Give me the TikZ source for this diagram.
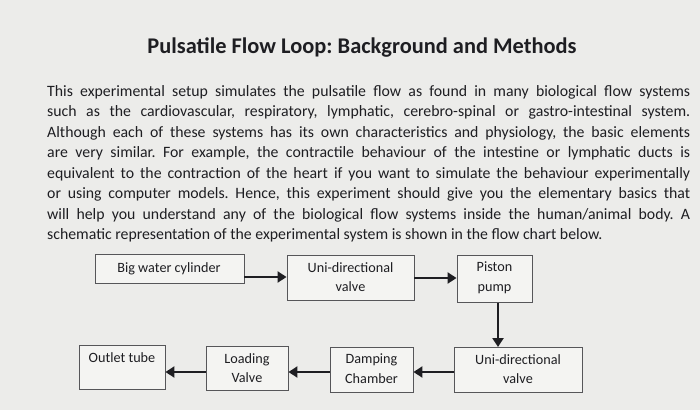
\documentclass[tikz,border=0pt]{standalone}
\usepackage{fontspec}
\setmainfont{Carlito}
\usetikzlibrary{arrows.meta}
\definecolor{bg}{HTML}{ECECEA}
\definecolor{ink}{HTML}{1E1E22}
\tikzset{
  box/.style={draw=ink!75, line width=0.9pt, fill=bg!60!white, inner sep=0pt},
  lbl/.style={text=ink, font=\fontsize{14.2}{19.5}\selectfont, align=center, anchor=north, inner sep=0pt},
  flow/.style={draw=ink, line width=2.2pt, -{Triangle[length=9pt,width=11pt]}}
}
\begin{document}
\frenchspacing
\begin{tikzpicture}[x=1pt,y=-1pt]
\fill[bg] (0,0) rectangle (700,410);
\useasboundingbox (0,0) rectangle (700,410);
\node[text=ink, font=\bfseries\fontsize{22.4}{26}\selectfont] (title) at (362,48) {Pulsatile Flow Loop: Background and Methods};
\node[text=ink, anchor=north west, text width=643pt, align=justify, inner sep=0pt, font=\fontsize{15.8}{20.5}\selectfont] (body) at (47,85) {This experimental setup simulates the pulsatile flow as found in many biological flow systems\linebreak such as the cardiovascular, respiratory, lymphatic, cerebro-spinal or gastro-intestinal system.\linebreak Although each of these systems has its own characteristics and physiology, the basic elements\linebreak are very similar. For example, the contractile behaviour of the intestine or lymphatic ducts is\linebreak equivalent to the contraction of the heart if you want to simulate the behaviour experimentally\linebreak or using computer models. Hence, this experiment should give you the elementary basics that\linebreak will help you understand any of the biological flow systems inside the human/animal body. A\linebreak schematic representation of the experimental system is shown in the flow chart below.};
% boxes
\node[box, minimum width=149pt, minimum height=29pt] (cyl) at (169.5,268.5) {};
\node[lbl] (cylt) at (169,262) {Big water cylinder};
\node[box, minimum width=127pt, minimum height=45pt, anchor=north] (v1) at (350.5,255) {};
\node[lbl] (v1t) at (350.5,262) {Uni-directional\\valve};
\node[box, minimum width=75pt, minimum height=47pt, anchor=north] (pump) at (494.5,255) {};
\node[lbl] (pumpt) at (494.5,262) {Piston\\pump};
\node[box, minimum width=128pt, minimum height=45pt, anchor=north] (v2) at (518,347) {};
\node[lbl] (v2t) at (518,354) {Uni-directional\\valve};
\node[box, minimum width=83pt, minimum height=45pt, anchor=north] (damp) at (371.5,347) {};
\node[lbl] (dampt) at (371.5,354) {Damping\\Chamber};
\node[box, minimum width=82pt, minimum height=44pt, anchor=north] (load) at (247,346) {};
\node[lbl] (loadt) at (247,353) {Loading\\Valve};
\node[box, minimum width=86pt, minimum height=44pt, anchor=north] (out) at (122,345) {};
\node[lbl] (outt) at (122,352) {Outlet tube};
% arrows
\draw[flow] (cyl.east |- 0,277) -- (v1.west |- 0,277);
\draw[flow] (v1.east |- 0,278) -- (pump.west |- 0,278);
\draw[flow] (pump.south -| 498,0) -- (v2.north -| 498,0);
\draw[flow] (v2.west |- 0,372) -- (damp.east |- 0,372);
\draw[flow] (damp.west |- 0,372) -- (load.east |- 0,372);
\draw[flow] (load.west |- 0,372) -- (out.east |- 0,372);
\end{tikzpicture}
\end{document}
